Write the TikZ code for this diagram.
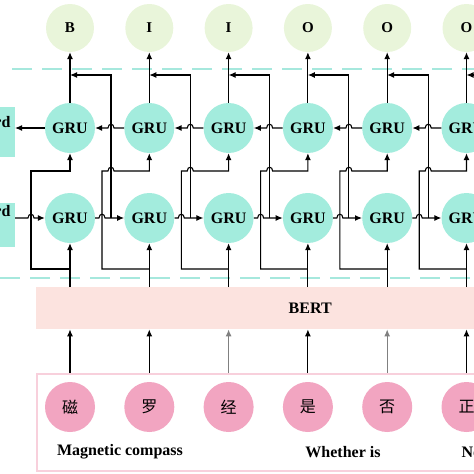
\documentclass[tikz,border=0pt]{standalone}
\usepackage{fontspec}
\setmainfont{Liberation Serif}
\newfontfamily\cjkfont{Noto Sans CJK SC}
\usetikzlibrary{arrows.meta,positioning}

\definecolor{gruteal}{HTML}{A3ECDD}
\definecolor{tagcol}{HTML}{E9F5DA}
\definecolor{bertcol}{HTML}{FCE3DF}
\definecolor{charcol}{HTML}{F2A5C1}
\definecolor{inboxcol}{HTML}{F8D0DC}
\definecolor{dashcol}{HTML}{A6E8DD}

\tikzset{
  gru/.style={circle, fill=gruteal, minimum size=50pt, inner sep=0pt, font=\bfseries\fontsize{16}{16}\selectfont},
  tag/.style={circle, fill=tagcol, minimum size=48pt, inner sep=0pt, font=\bfseries\fontsize{15}{15}\selectfont},
  char/.style={circle, fill=charcol, minimum size=50pt, inner sep=0pt, font=\cjkfont\fontsize{16}{16}\selectfont},
  side/.style={fill=gruteal, minimum width=60pt, anchor=north east},
  wire/.style={line width=1.1pt},
  band/.style={dashcol, line width=2pt, dash pattern=on 20pt off 10pt},
  word/.style={font=\bfseries\fontsize{16}{16}\selectfont},
}

\begin{document}
\begin{tikzpicture}[x=1pt,y=-1pt,>={Latex[length=7pt,width=6pt]}]
\useasboundingbox (0,0) rectangle (474,474);

% dashed bands
\draw[band] (12,69) -- (474,69);
\draw[band] (0,278) -- (474,278);

% boxes
\node[fill=bertcol, minimum width=548pt, minimum height=42pt, anchor=north west, word] (bert) at (36,287) {BERT};
\node[draw=inboxcol, line width=2pt, fill=white, minimum width=548pt, minimum height=97pt, anchor=north west] (inbox) at (36,373) {};
\node[side, minimum height=50pt] (bw) at (15,107) {};
\node[side, minimum height=44pt] (fw) at (15,203) {};
\node[word, anchor=base east] at (14,127) {Backward};
\node[word, anchor=base east] at (14,216) {Forward};

% columns
\foreach \i/\x/\t/\c/\col in {1/70/B/磁/black, 2/149.3/I/罗/black, 3/228.6/I/经/gray, 4/307.9/O/是/black, 5/387.2/O/否/gray, 6/466.5/O/正/black} {
  \node[tag] (o\i) at (\x,28) {\t};
  \node[gru] (u\i) at (\x,128) {GRU};
  \node[gru] (l\i) at (\x,218) {GRU};
  \node[char] (c\i) at (\x,407) {\c};
  \draw[->, wire, draw=\col] (c\i |- inbox.north) -- (c\i |- bert.south);
  \draw[->, wire] (l\i |- bert.north) -- (l\i);
  \draw[->, wire] (u\i) -- (o\i);
}

% words
\node[word] (w1) at (120,452) {Magnetic compass};
\node[word] (w2) at (343,452) {Whether is};
\node[word, anchor=west] (w3) at (458,452) {Normal};

% first column
\draw[->, wire] (u1.west) -- (bw.east |- u1);
\draw[->, wire] (fw.east |- l1) -- (28,218) .. controls (28,213) and (34,213) .. (34,218) -- (l1.west);
\draw[->, wire] (l1 |- 0,269) -- (31,269) -- (31,171) -- (u1 |- 0,171) -- (u1.south);

% links between neighbours
\foreach \i/\j/\x in {1/2/70, 2/3/149.3, 3/4/228.6, 4/5/307.9, 5/6/387.2} {
  \coordinate (b\i) at (\x+41,218);
  \draw[->, wire] (l\i.east) -- (\x+29,218) .. controls (\x+29,213) and (\x+35,213) .. (\x+35,218) -- (l\j.west);
  \draw[->, wire] (u\j.west) -- (\x+44,128) .. controls (\x+44,123) and (\x+38,123) .. (\x+38,128) -- (u\i.east);
  \draw[->, wire] (b\i) -- (\x+41,75) -- (u\i |- 0,75);
  \draw[->, wire] (l\j |- 0,269) -- (\x+32,269) -- (\x+32,171) -- (\x+38,171) .. controls (\x+38,166) and (\x+44,166) .. (\x+44,171) -- (u\j |- 0,171) -- (u\j.south);
}
\coordinate (b6) at (507,75);
\draw[->, wire] (b6) -- (u6 |- 0,75);
\end{tikzpicture}
\end{document}
